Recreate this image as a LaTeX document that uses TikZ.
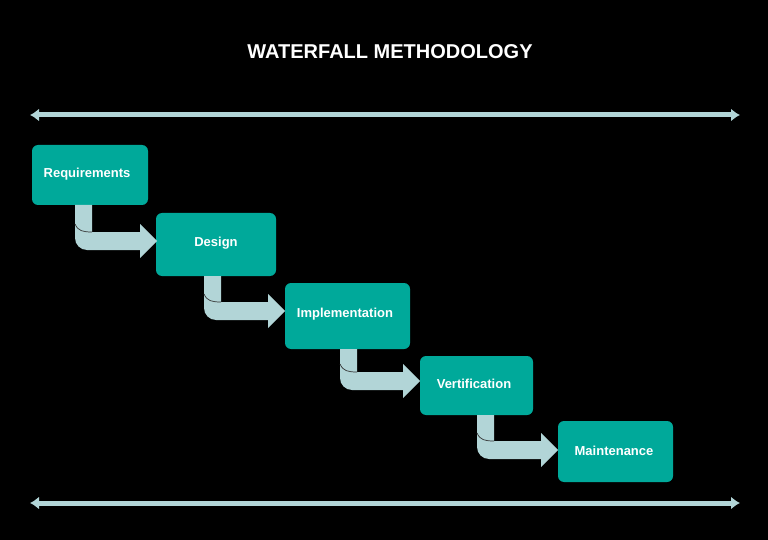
\documentclass[tikz,border=0pt]{standalone}
\usepackage{fontspec}
\setmainfont{Liberation Sans}
\usetikzlibrary{arrows.meta}
\definecolor{teal1}{HTML}{00A99A}
\definecolor{pale}{HTML}{B2D5D7}
\begin{document}
\begin{tikzpicture}[x=1pt,y=-1pt,
  box/.style={fill=teal1,rounded corners=6pt,text=white,font=\bfseries\fontsize{13}{15}\selectfont},
  line/.style={pale,line width=5pt,{Latex[length=9pt,width=13pt]}-{Latex[length=9pt,width=13pt]}}]
\fill[black] (0,0) rectangle (768,540);
\useasboundingbox (0,0) rectangle (768,540);
\node[text=white,font=\bfseries\fontsize{20}{24}\selectfont] (title) at (390,52) {WATERFALL METHODOLOGY};
\coordinate (tl) at (30,115); \coordinate (tr) at (740,115);
\coordinate (bl) at (30,503); \coordinate (br) at (740,503);
\draw[line] (tl) -- (tr);
\draw[line] (bl) -- (br);
\path[box] (32,145) rectangle (148,205); \node[text=white,font=\bfseries\fontsize{13}{15}\selectfont] (req) at (87,174) {Requirements};
\path[box] (156,213) rectangle (276,276); \node[text=white,font=\bfseries\fontsize{13}{15}\selectfont] (des) at (216,243) {Design};
\path[box] (285,283) rectangle (410,349); \node[text=white,font=\bfseries\fontsize{13}{15}\selectfont] (imp) at (345,314) {Implementation};
\path[box] (420,356) rectangle (533,415); \node[text=white,font=\bfseries\fontsize{13}{15}\selectfont] (ver) at (474,384) {Vertification};
\path[box] (558,421) rectangle (673,482); \node[text=white,font=\bfseries\fontsize{13}{15}\selectfont] (mai) at (614,451) {Maintenance};
\foreach \L/\T/\H/\P in {75/205/232/157, 204/276/302/285, 340/349/372/420, 477/415/441/558}{
  \fill[pale] (\L,\T) -- (\L+17,\T) -- (\L+17,\H) -- (\P-17,\H) -- (\P-17,\H-8) -- (\P,\H+9) -- (\P-17,\H+26) -- (\P-17,\H+18)
     [rounded corners=12pt] -- (\L,\H+18) [sharp corners] -- cycle;
  \draw[black!80,line width=0.7pt] (\L,\H-8) .. controls (\L+3,\H-1) and (\L+8,\H) .. (\L+17,\H);
}
\end{tikzpicture}
\end{document}
